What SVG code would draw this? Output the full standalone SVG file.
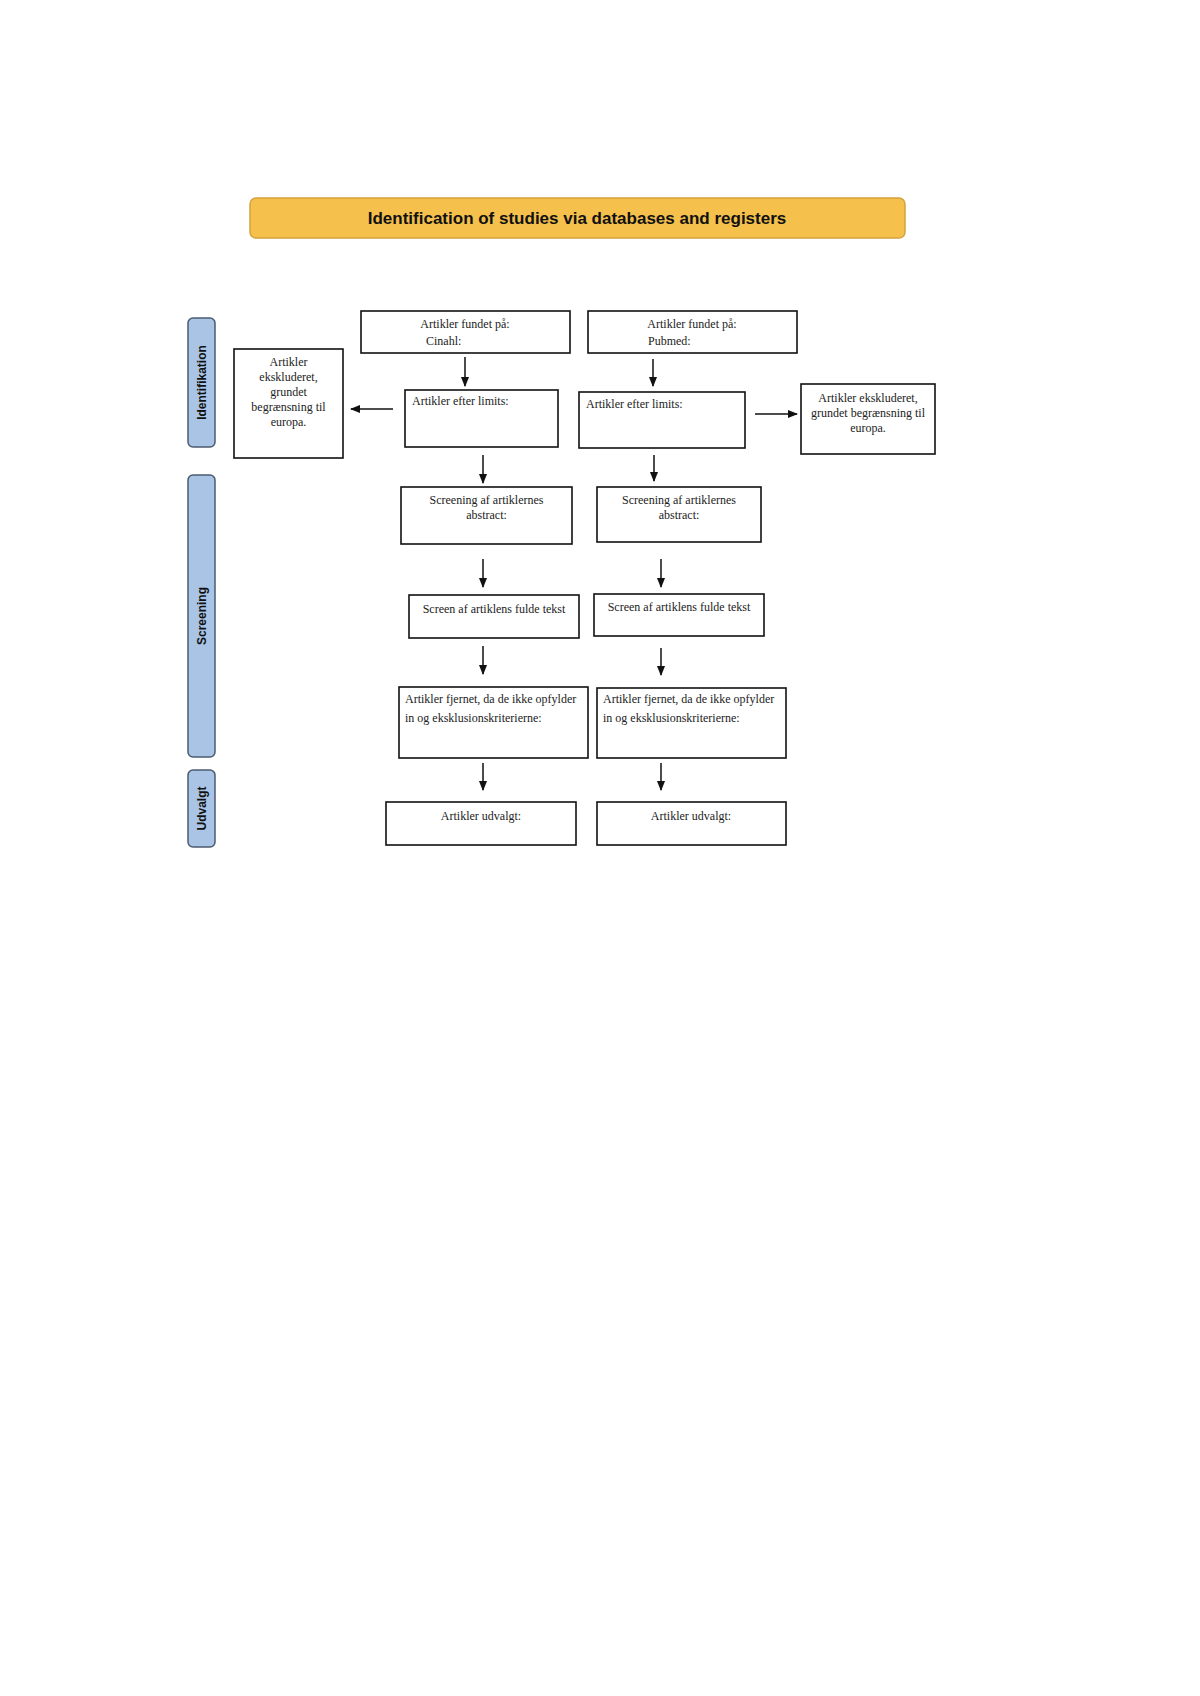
<svg xmlns="http://www.w3.org/2000/svg" width="1200" height="1696" viewBox="0 0 1200 1696">
<style>
.b{fill:#fff;stroke:#111;stroke-width:1.6}
.t{font-family:"Liberation Serif",serif;font-size:12px;fill:#222}
.side{fill:#a9c4e4;stroke:#4c5b70;stroke-width:1.5}
.st{font-family:"Liberation Sans",Arial,sans-serif;font-size:12px;font-weight:bold;fill:#111}
.c line{stroke:#111;stroke-width:1.5;marker-end:url(#a)}
</style>
<defs><marker id="a" viewBox="0 0 10 10" refX="9" refY="5" markerWidth="7" markerHeight="7" orient="auto"><path d="M0,1L10,5L0,9z" fill="#111"/></marker></defs>
<rect width="1200" height="1696" fill="#fff"/>
<g id="header"><rect x="250" y="198" width="655" height="40" rx="6" fill="#f5c04c" stroke="#d4a33c" stroke-width="1.5"/>
<text x="577" y="224" text-anchor="middle" font-family="Liberation Sans,Arial,sans-serif" font-size="17" font-weight="bold" fill="#111">Identification of studies via databases and registers</text></g>
<g id="lbl-ident"><rect class="side" x="188" y="318" width="27" height="129" rx="5"/><text class="st" transform="translate(206,382.5) rotate(-90)" text-anchor="middle">Identifikation</text></g>
<g id="lbl-screen"><rect class="side" x="188" y="475" width="27" height="282" rx="5"/><text class="st" transform="translate(206,616) rotate(-90)" text-anchor="middle">Screening</text></g>
<g id="lbl-udv"><rect class="side" x="188" y="770" width="27" height="77" rx="5"/><text class="st" transform="translate(206,808.5) rotate(-90)" text-anchor="middle">Udvalgt</text></g>
<g id="excl-left"><rect class="b" x="234" y="349" width="109" height="109"/><text class="t" text-anchor="middle"><tspan x="288.5" y="366">Artikler</tspan><tspan x="288.5" y="381">ekskluderet,</tspan><tspan x="288.5" y="396">grundet</tspan><tspan x="288.5" y="411">begrænsning til</tspan><tspan x="288.5" y="426">europa.</tspan></text></g>
<g id="cinahl"><rect class="b" x="361" y="311" width="209" height="42"/><text class="t" text-anchor="middle"><tspan x="465" y="328">Artikler fundet på:</tspan></text><text class="t" x="426" y="345">Cinahl:</text></g>
<g id="pubmed"><rect class="b" x="588" y="311" width="209" height="42"/><text class="t" text-anchor="middle"><tspan x="692" y="328">Artikler fundet på:</tspan></text><text class="t" x="648" y="345">Pubmed:</text></g>
<g id="limits-l"><rect class="b" x="405" y="390" width="153" height="57"/><text class="t" x="412" y="405">Artikler efter limits:</text></g>
<g id="limits-r"><rect class="b" x="579" y="392" width="166" height="56"/><text class="t" x="586" y="408">Artikler efter limits:</text></g>
<g id="excl-right"><rect class="b" x="801" y="384" width="134" height="70"/><text class="t" text-anchor="middle"><tspan x="868" y="402">Artikler ekskluderet,</tspan><tspan x="868" y="417">grundet begrænsning til</tspan><tspan x="868" y="432">europa.</tspan></text></g>
<g id="abs-l"><rect class="b" x="401" y="487" width="171" height="57"/><text class="t" text-anchor="middle"><tspan x="486.5" y="504">Screening af artiklernes</tspan><tspan x="486.5" y="519">abstract:</tspan></text></g>
<g id="abs-r"><rect class="b" x="597" y="487" width="164" height="55" stroke-width="2"/><text class="t" text-anchor="middle"><tspan x="679" y="504">Screening af artiklernes</tspan><tspan x="679" y="519">abstract:</tspan></text></g>
<g id="full-l"><rect class="b" x="409" y="595" width="170" height="43"/><text class="t" x="494" y="613" text-anchor="middle">Screen af artiklens fulde tekst</text></g>
<g id="full-r"><rect class="b" x="594" y="594" width="170" height="42"/><text class="t" x="679" y="611" text-anchor="middle">Screen af artiklens fulde tekst</text></g>
<g id="rem-l"><rect class="b" x="399" y="687" width="189" height="71" stroke-width="2"/><text class="t"><tspan x="405" y="703">Artikler fjernet, da de ikke opfylder</tspan><tspan x="405" y="722">in og eksklusionskriterierne:</tspan></text></g>
<g id="rem-r"><rect class="b" x="597" y="688" width="189" height="70"/><text class="t"><tspan x="603" y="703">Artikler fjernet, da de ikke opfylder</tspan><tspan x="603" y="722">in og eksklusionskriterierne:</tspan></text></g>
<g id="sel-l"><rect class="b" x="386" y="802" width="190" height="43"/><text class="t" x="481" y="820" text-anchor="middle">Artikler udvalgt:</text></g>
<g id="sel-r"><rect class="b" x="597" y="802" width="189" height="43"/><text class="t" x="691" y="820" text-anchor="middle">Artikler udvalgt:</text></g>
<g id="connectors" class="c">
<line x1="465" y1="357" x2="465" y2="386"/>
<line x1="653" y1="359" x2="653" y2="386"/>
<line x1="393" y1="409" x2="351" y2="409"/>
<line x1="755" y1="414" x2="797" y2="414"/>
<line x1="483" y1="455" x2="483" y2="483"/>
<line x1="654" y1="455" x2="654" y2="481"/>
<line x1="483" y1="559" x2="483" y2="587"/>
<line x1="661" y1="559" x2="661" y2="587"/>
<line x1="483" y1="646" x2="483" y2="674"/>
<line x1="661" y1="648" x2="661" y2="675"/>
<line x1="483" y1="763" x2="483" y2="790"/>
<line x1="661" y1="763" x2="661" y2="790"/>
</g>
</svg>
